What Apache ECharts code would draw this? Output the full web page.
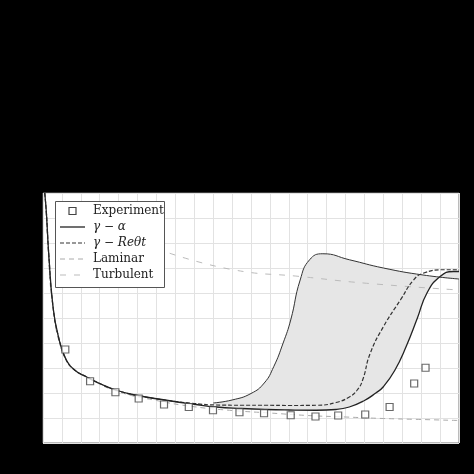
<!DOCTYPE html><html><head><meta charset="utf-8"><script src="https://cdn.jsdelivr.net/npm/echarts@6/dist/echarts.min.js"></script>
<style>html,body{margin:0;background:#000}#c{width:474px;height:474px}</style></head><body><div id="c"></div><script>
const experiment=[[1.18,3.74],[2.49,2.47],[3.83,2.03],[5.06,1.78],[6.40,1.54],[7.71,1.44],[8.99,1.31],[10.39,1.23],[11.69,1.19],[13.10,1.11],[14.41,1.06],[15.61,1.10],[17.04,1.14],[18.33,1.44],[19.63,2.38],[20.23,3.01]];
const gaLower=[[0.09,10],[0.18,9.2],[0.3,7.6],[0.53,5.45],[0.8,4.3],[1.23,3.32],[1.7,2.9],[2.29,2.65],[3.0,2.38],[3.88,2.11],[5.0,1.9],[6.53,1.71],[8.0,1.55],[9.17,1.44],[10.5,1.38],[11.8,1.34],[13.0,1.32],[14.46,1.31],[15.5,1.34],[16.2,1.44],[17.0,1.7],[17.6,2.0],[18.0,2.25],[18.6,2.9],[19.2,3.85],[19.8,5.0],[20.3,5.99],[21.0,6.66],[21.7,6.86],[22,6.86]];
const gaUpper=[[9.0,1.6],[10.0,1.72],[11.0,1.98],[11.7,2.4],[12.2,3.05],[12.7,4.0],[13.1,4.92],[13.6,6.52],[14.1,7.33],[14.8,7.57],[16.2,7.33],[18.0,7.0],[20.1,6.72],[22,6.56]];
const gaReTheta=[[0.09,10],[0.18,9.2],[0.3,7.6],[0.53,5.45],[0.8,4.3],[1.23,3.32],[1.7,2.9],[2.29,2.65],[3.0,2.38],[3.88,2.11],[5.0,1.9],[6.53,1.71],[8.0,1.58],[9.17,1.52],[10.5,1.51],[11.8,1.51],[13.0,1.5],[14.5,1.51],[15.5,1.62],[16.2,1.84],[16.6,2.1],[16.9,2.51],[17.3,3.58],[18.0,4.65],[18.9,5.72],[19.6,6.52],[20.1,6.79],[21.2,6.93],[22,6.93]];
const laminar=[[0.12,10],[0.25,8],[0.5,5.6],[1.0,3.7],[1.6,3.0],[2.5,2.55],[4.0,2.05],[6.0,1.7],[8.0,1.45],[10,1.3],[12,1.2],[14,1.1],[16,1.04],[18,0.98],[20,0.94],[22,0.9]];
const turbulent=[[6.7,7.59],[10.05,6.93],[13.6,6.66],[17.1,6.39],[22,6.12]];
const legendNames=['Experiment','γ − α','γ − Reθt','Laminar','Turbulent'];
const band=gaUpper.concat(gaLower.filter(p=>p[0]>=9).slice().reverse());
const serif='"DejaVu Serif","Liberation Serif",serif';
const styles=[null,{stroke:'#222',lineWidth:1.3},{stroke:'#333',lineWidth:1.2,lineDash:[4,2]},{stroke:'#aaa',lineWidth:1,lineDash:[5,4]},{stroke:'#bbb',lineWidth:1,lineDash:[6,8]}];
const g=[{type:'rect',left:55,top:201,shape:{width:109,height:86},style:{fill:'#fff',stroke:'#555',lineWidth:1},z:10}];
legendNames.forEach((n,i)=>{const y=211+i*16;
 if(i===0)g.push({type:'rect',shape:{x:69,y:y-3.5,width:7,height:7},style:{fill:'#fff',stroke:'#444',lineWidth:1.2},z:11});
 else g.push({type:'line',shape:{x1:60,y1:y,x2:85,y2:y},style:styles[i],z:11});
 g.push({type:'text',x:93,y:y,style:{text:n,fontFamily:serif,fontSize:12,fill:'#222',verticalAlign:'middle',fontStyle:(i===1||i===2)?'italic':'normal'},z:11});});
const ch=echarts.init(document.getElementById('c'));
ch.setOption({backgroundColor:'#000',animation:false,graphic:g,
grid:{left:43,right:15,top:193,bottom:31,show:true,backgroundColor:'#fff',borderColor:'#777',borderWidth:1},
xAxis:{type:'value',min:0,max:22,interval:1,axisLabel:{show:false},axisTick:{show:false},axisLine:{show:false},splitLine:{lineStyle:{color:'#e2e2e2'}}},
yAxis:{type:'value',min:0,max:10,interval:1,axisLabel:{show:false},axisTick:{show:false},axisLine:{show:false},splitLine:{lineStyle:{color:'#e2e2e2'}}},
series:[
{type:'custom',silent:true,data:[0],renderItem:(p,api)=>({type:'polygon',shape:{points:band.map(d=>api.coord(d)),smooth:0.3},style:{fill:'#e6e6e6'}}),z:1},
{type:'line',data:laminar,symbol:'none',smooth:true,lineStyle:{color:'#aaa',width:1,type:[5,4]},z:2},
{type:'line',data:turbulent,symbol:'none',smooth:true,lineStyle:{color:'#bbb',width:1,type:[6,8]},z:2},
{type:'line',data:gaReTheta,symbol:'none',smooth:true,lineStyle:{color:'#333',width:1.2,type:[4,2]},z:3},
{type:'line',data:gaLower,symbol:'none',smooth:true,lineStyle:{color:'#222',width:1.3},z:4},
{type:'line',data:gaUpper,symbol:'none',smooth:true,lineStyle:{color:'#333',width:1},z:4},
{type:'scatter',data:experiment,symbol:'rect',symbolSize:7,itemStyle:{color:'#fff',borderColor:'#444',borderWidth:1.2},z:5}
]});
</script></body></html>
